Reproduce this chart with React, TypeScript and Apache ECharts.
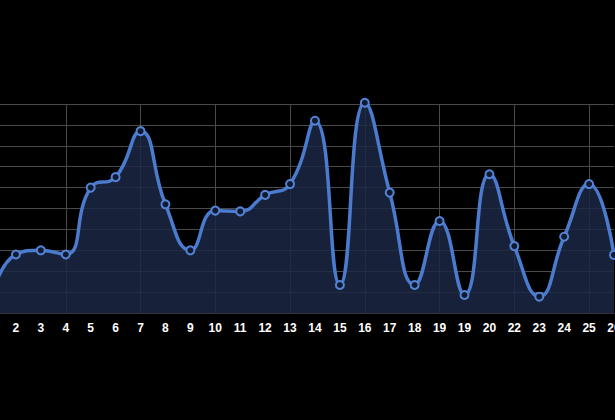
import React, { useEffect, useRef } from "react";
import * as echarts from "echarts";

const categories = ["1", "2", "3", "4", "5", "6", "7", "8", "9", "10", "11", "12", "13", "14", "15", "16", "17", "18", "19", "19", "20", "22", "23", "24", "25", "26"];
const values = [7, 28, 30, 28, 60, 65, 87, 52, 30, 49, 48.6, 56.5, 61.7, 92, 13.4, 100.6, 57.6, 13.4, 44, 8.6, 66.4, 32, 7.8, 36.5, 61.7, 27.8];
const yMin = 0;
const yMax = 100;
const yInterval = 10;

export default function App() {
  const ref = useRef<HTMLDivElement>(null);
  useEffect(() => {
    if (!ref.current) return;
    const chart = echarts.init(ref.current, undefined, { renderer: "svg", width: 660, height: 420 });
    chart.setOption({
      animation: false,
      backgroundColor: "#000000",
      grid: { left: 31, right: 6, top: 104, bottom: 107, outerBoundsMode: "none", containLabel: false },
      xAxis: {
        type: "category",
        data: categories,
        boundaryGap: false,
        axisTick: { show: false },
        axisLine: { show: true, lineStyle: { color: "#333333", width: 1 } },
        axisLabel: {
          interval: (index: number) => index !== 0,
          color: "#ffffff",
          fontSize: 12,
          fontWeight: "bold",
          fontFamily: "Liberation Sans, Arial, sans-serif",
          margin: 9,
        },
        splitLine: { show: true, interval: 2, lineStyle: { color: "#4a4a4a", width: 1 } },
      },
      yAxis: {
        type: "value",
        min: yMin,
        max: yMax,
        interval: yInterval,
        axisLabel: { show: false },
        axisLine: { show: false },
        axisTick: { show: false },
        splitLine: { show: true, lineStyle: { color: "#4a4a4a", width: 1 } },
      },
      series: [
        {
          type: "line",
          data: values,
          smooth: true,
          clip: false,
          symbol: "circle",
          symbolSize: 8,
          lineStyle: { color: "#4a7bcf", width: 3.5 },
          itemStyle: { color: "#0f1a33", borderColor: "#5583d4", borderWidth: 2 },
          areaStyle: { color: "#1b2743", opacity: 0.85 },
          z: 1,
        },
      ],
    });
    return () => chart.dispose();
  }, []);
  return (
    <div style={{ position: "fixed", left: 0, top: 0, width: 615, height: 420, overflow: "hidden", background: "#000" }}>
      <div ref={ref} style={{ position: "absolute", left: -40, top: 0, width: 660, height: 420 }} />
    </div>
  );
}
